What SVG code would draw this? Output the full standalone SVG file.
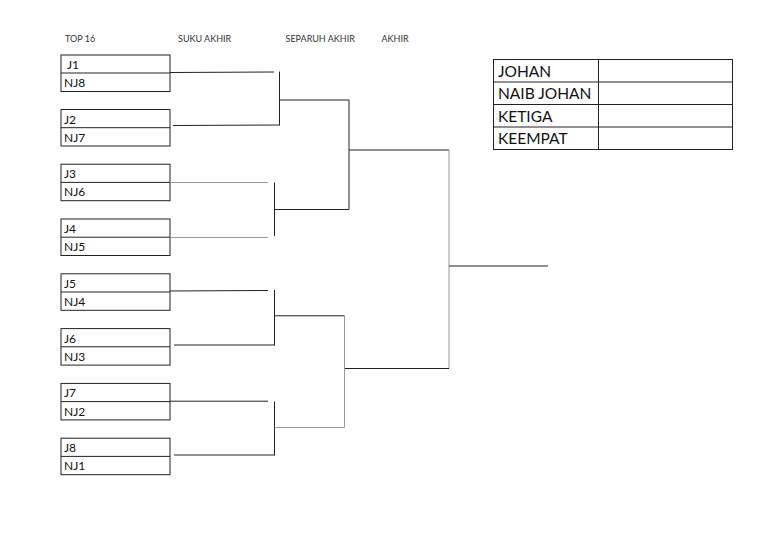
<svg xmlns="http://www.w3.org/2000/svg" width="768" height="543" viewBox="0 0 768 543">
<style>
text{font-family:Lato,"Open Sans","Liberation Sans",sans-serif;fill:#111}
.h{font-size:9px;fill:#333}
.b{font-size:12px}
.t{font-size:15.5px}
.box{fill:#fff;stroke:#222;stroke-width:1}
.ln{fill:none;stroke:#222;stroke-width:1}
.lg{fill:none;stroke:#999;stroke-width:1}
</style>
<rect width="768" height="543" fill="#fff"/>
<g id="headers">
<text class="h" x="65" y="42.3">TOP 16</text>
<text class="h" x="178" y="42.3">SUKU AKHIR</text>
<text class="h" x="285.5" y="42.3">SEPARUH AKHIR</text>
<text class="h" x="381.5" y="42.3">AKHIR</text>
</g>
<g id="m1"><rect class="box" x="61" y="55" width="109" height="36.5"/><line class="ln" x1="61" y1="73" x2="170" y2="73"/><text class="b" x="67" y="69">J1</text><text class="b" x="64" y="87">NJ8</text></g>
<g id="m2"><rect class="box" x="61" y="109.5" width="109" height="36.5"/><line class="ln" x1="61" y1="127.7" x2="170" y2="127.7"/><text class="b" x="64" y="123.5">J2</text><text class="b" x="64" y="141.7">NJ7</text></g>
<g id="m3"><rect class="box" x="61" y="164.2" width="109" height="36.5"/><line class="ln" x1="61" y1="182.4" x2="170" y2="182.4"/><text class="b" x="64" y="178.2">J3</text><text class="b" x="64" y="196.4">NJ6</text></g>
<g id="m4"><rect class="box" x="61" y="219" width="109" height="36.5"/><line class="ln" x1="61" y1="237.2" x2="170" y2="237.2"/><text class="b" x="64" y="233">J4</text><text class="b" x="64" y="251.2">NJ5</text></g>
<g id="m5"><rect class="box" x="61" y="273.8" width="109" height="36.5"/><line class="ln" x1="61" y1="292" x2="170" y2="292"/><text class="b" x="64" y="287.8">J5</text><text class="b" x="64" y="306">NJ4</text></g>
<g id="m6"><rect class="box" x="61" y="328.6" width="109" height="36.5"/><line class="ln" x1="61" y1="346.8" x2="170" y2="346.8"/><text class="b" x="64" y="342.6">J6</text><text class="b" x="64" y="360.8">NJ3</text></g>
<g id="m7"><rect class="box" x="61" y="383.4" width="109" height="36.5"/><line class="ln" x1="61" y1="401.6" x2="170" y2="401.6"/><text class="b" x="64" y="397.4">J7</text><text class="b" x="64" y="415.6">NJ2</text></g>
<g id="m8"><rect class="box" x="61" y="438.2" width="109" height="36.5"/><line class="ln" x1="61" y1="456.4" x2="170" y2="456.4"/><text class="b" x="64" y="452.2">J8</text><text class="b" x="64" y="470.4">NJ1</text></g>
<g id="connectors">
<line class="ln" x1="170" y1="72.5" x2="274" y2="72"/>
<line class="ln" x1="173" y1="125.5" x2="279.5" y2="125"/>
<polyline class="ln" points="279.5,71.5 279.5,125.5"/>
<polyline class="ln" points="279.5,100 349,100 349,209.5 275,209.5"/>
<line class="lg" x1="170" y1="182.5" x2="268" y2="182.5"/>
<line class="lg" x1="170" y1="237.5" x2="268" y2="237.5"/>
<line class="ln" x1="274.5" y1="182.5" x2="274.5" y2="236"/>
<polyline class="ln" points="349,150 449,150"/>
<line class="lg" x1="449" y1="150" x2="449" y2="368.5"/>
<line class="ln" x1="449" y1="266" x2="548" y2="266"/>
<line class="ln" x1="345" y1="368.5" x2="449" y2="368.5"/>
<line class="ln" x1="170" y1="291" x2="268" y2="290.5"/>
<line class="ln" x1="174" y1="345" x2="274.5" y2="345"/>
<line class="ln" x1="274.5" y1="290" x2="274.5" y2="345.5"/>
<line class="ln" x1="274.5" y1="315.8" x2="344.5" y2="315.8"/>
<line class="lg" x1="344.5" y1="315.8" x2="344.5" y2="427.5"/>
<line class="ln" x1="170" y1="401.2" x2="268" y2="401.2"/>
<line class="ln" x1="174" y1="455" x2="274.5" y2="455"/>
<line class="ln" x1="274.5" y1="401.5" x2="274.5" y2="455.5"/>
<line class="lg" x1="274.5" y1="427.5" x2="344.5" y2="427.5"/>
</g>
<g id="table">
<rect class="box" x="493.5" y="59.5" width="239" height="90"/>
<line class="ln" x1="598.5" y1="59.5" x2="598.5" y2="149.5"/>
<line class="ln" x1="493.5" y1="82" x2="732.5" y2="82"/>
<line class="ln" x1="493.5" y1="104.5" x2="732.5" y2="104.5"/>
<line class="ln" x1="493.5" y1="127" x2="732.5" y2="127"/>
<text class="t" x="498" y="76.7">JOHAN</text>
<text class="t" x="498" y="99.2">NAIB JOHAN</text>
<text class="t" x="498" y="121.7">KETIGA</text>
<text class="t" x="498" y="144.2">KEEMPAT</text>
</g>
</svg>
